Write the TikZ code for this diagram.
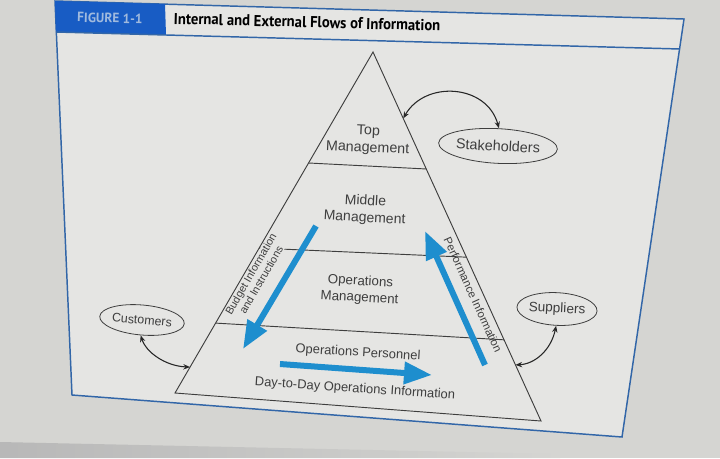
\documentclass[tikz,border=0pt]{standalone}
\usepackage{fontspec}
\setmainfont{Liberation Sans}
\newfontfamily\headfont{PT Sans}
\usetikzlibrary{arrows.meta,calc,shapes.geometric}

\definecolor{bgpaper}{RGB}{213,213,210}
\definecolor{pagegray}{RGB}{229,229,227}
\definecolor{frameblue}{RGB}{50,102,168}
\definecolor{headblue}{RGB}{24,92,196}
\definecolor{figtext}{RGB}{160,186,222}
\definecolor{flowblue}{RGB}{30,142,206}
\definecolor{inkgray}{RGB}{62,62,62}

\tikzset{
  level/.style={inner sep=0.75pt, align=center, text=inkgray},
  party/.style={ellipse, draw=inkgray, line width=0.6pt, inner sep=0pt, text=inkgray},
  flow/.style={draw=flowblue, line width=4.5pt, -{Triangle[length=21pt,width=16pt]}},
  link/.style={draw=black!85, line width=0.8pt, {Stealth[length=5pt,width=4pt]}-{Stealth[length=5pt,width=4pt]}},
  edgeline/.style={draw=inkgray, line width=0.7pt}
}

\begin{document}
\begin{tikzpicture}[x=0.75pt,y=0.75pt,yscale=-1,xscale=1]
        \useasboundingbox (0,0) rectangle (720,458);
        % Background
        \fill[bgpaper] (0,0) rectangle (720,458);
        \shade[left color=black!28, right color=bgpaper] (0,442) -- (560,454) -- (560,458) -- (0,458) -- cycle;

        %Shape: Frame
        \draw[frameblue, line width=1.1pt, fill=pagegray] (55,1) -- (684,19) -- (622,437) -- (72,395) -- cycle;
        \fill[headblue] (55,1) -- (165,4) -- (166,35) -- (56,32) -- cycle;
        \draw[frameblue, line width=1.1pt] (56,32) -- (680,49);

        % Text Node
        \node (fig) at (110,18) [rotate=-1.5, inner sep=0pt, text=figtext] {\resizebox{49pt}{7.2pt}{\headfont\bfseries FIGURE 1-1}};
        % Text Node
        \node (title) at (307,22) [rotate=-1.5, inner sep=0pt] {\resizebox{200pt}{8.4pt}{\headfont\bfseries Internal and External Flows of Information}};

        %Shape: Pyramid
        \coordinate (apex) at (373,52);
        \coordinate (bl) at (175,393);
        \coordinate (br) at (541,421);
        \draw[edgeline] (apex) -- (br) -- (bl) -- cycle;
        %Straight Lines
        \draw[edgeline] ($(apex)!0.3255!(bl)$) -- ($(apex)!0.317!(br)$);
        \draw[edgeline] ($(apex)!0.575!(bl)$) -- ($(apex)!0.556!(br)$);
        \draw[edgeline] ($(apex)!0.795!(bl)$) -- ($(apex)!0.78!(br)$);

        % Text Node
        \node (top) at (368,140) [level, rotate=-2.5, font=\fontsize{10.7}{12.8}\selectfont] {Top\\Management};
        % Text Node
        \node (middle) at (365,210) [level, rotate=-3, font=\fontsize{10.5}{12.6}\selectfont] {Middle\\Management};
        % Text Node
        \node (opsmgmt) at (360,290) [level, rotate=-3.3, font=\fontsize{10}{12.4}\selectfont] {Operations\\Management};
        % Text Node
        \node (personnel) at (358,353) [level, rotate=-3.5, font=\fontsize{9.7}{11}\selectfont] {Operations Personnel};
        % Text Node
        \node (daytoday) at (355,389) [level, rotate=-3.8, font=\fontsize{9.7}{11}\selectfont] {Day-to-Day Operations Information};
        % Text Node
        \node (budget) at (256,277) [level, rotate=60, fill=pagegray, inner sep=0.5pt, font=\fontsize{8.1}{9}\selectfont] {Budget Information\\and Instructions};
        % Text Node
        \node (perf) at (473,295) [level, rotate=-65.5, font=\fontsize{8.5}{10}\selectfont] {Performance Information};

        %Flow arrows
        \coordinate (budgettail) at (316,226);
        \coordinate (budgettip) at (243,349);
        \coordinate (perftail) at (485,365);
        \coordinate (perftip) at (425,231);
        \coordinate (dtdtail) at (280,364);
        \coordinate (dtdtip) at (432,375);
        \draw[flow] (budgettail) -- (budgettip);
        \draw[flow] (perftail) -- (perftip);
        \draw[flow] (dtdtail) -- (dtdtip);

        % Outside parties
        \node (stake) at (498,146) [party, rotate=-3, minimum width=81pt, minimum height=26pt, font=\fontsize{10.8}{12}\selectfont] {Stakeholders};
        \node (supp) at (557,309) [party, rotate=-3, minimum width=58pt, minimum height=24.5pt, font=\fontsize{10.2}{12}\selectfont] {Suppliers};
        \node (cust) at (142,320) [party, rotate=-5, minimum width=62pt, minimum height=22.5pt, font=\fontsize{9.3}{11}\selectfont] {Customers};

        %Curved arrows
        \coordinate (topedge) at ($(apex)!0.18!(br)$);
        \coordinate (suppedge) at ($(apex)!0.848!(br)$);
        \coordinate (custedge) at ($(apex)!0.924!(bl)$);
        \draw[link] (topedge) .. controls (425,80) and (487,84) .. (stake.north);
        \draw[link] (supp.south) .. controls (551,350) and (535,364) .. (suppedge);
        \draw[link] (cust.south) .. controls (146,352) and (165,366) .. (custedge);
\end{tikzpicture}
\end{document}
